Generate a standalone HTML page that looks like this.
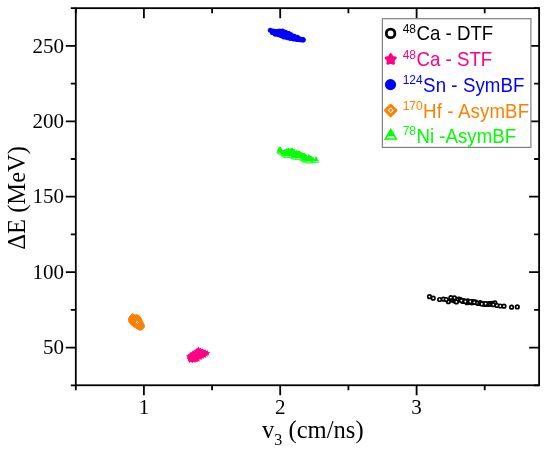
<!DOCTYPE html>
<html lang="en"><head><meta charset="utf-8"><title>ΔE vs v3</title>
<style>html,body{margin:0;padding:0;background:#fff}svg{display:block}.ser{font-family:"Liberation Serif",serif;fill:#000}.san{font-family:"Liberation Sans",sans-serif}</style></head><body>
<svg width="550" height="451" viewBox="0 0 550 451">
<rect width="550" height="451" fill="#fff"/>
<g fill="#0000ff">
<circle cx="287.9" cy="36.9" r="2.5"/>
<circle cx="278.3" cy="34.7" r="2.5"/>
<circle cx="286.3" cy="34.8" r="2.5"/>
<circle cx="300.0" cy="39.8" r="2.5"/>
<circle cx="303.0" cy="39.6" r="2.5"/>
<circle cx="277.9" cy="32.3" r="2.5"/>
<circle cx="294.3" cy="36.2" r="2.5"/>
<circle cx="272.8" cy="32.4" r="2.5"/>
<circle cx="282.3" cy="35.5" r="2.5"/>
<circle cx="283.8" cy="34.0" r="2.5"/>
<circle cx="282.5" cy="34.6" r="2.5"/>
<circle cx="288.0" cy="36.2" r="2.5"/>
<circle cx="278.8" cy="32.8" r="2.5"/>
<circle cx="287.5" cy="35.3" r="2.5"/>
<circle cx="292.7" cy="38.0" r="2.5"/>
<circle cx="300.6" cy="39.7" r="2.5"/>
<circle cx="277.1" cy="32.1" r="2.5"/>
<circle cx="282.6" cy="31.1" r="2.5"/>
<circle cx="272.3" cy="32.1" r="2.5"/>
<circle cx="281.4" cy="31.5" r="2.5"/>
<circle cx="279.2" cy="34.2" r="2.5"/>
<circle cx="270.3" cy="30.2" r="2.5"/>
<circle cx="289.6" cy="37.6" r="2.5"/>
<circle cx="286.6" cy="36.6" r="2.5"/>
<circle cx="300.0" cy="38.9" r="2.5"/>
<circle cx="289.4" cy="37.8" r="2.5"/>
<circle cx="273.2" cy="31.1" r="2.5"/>
<circle cx="283.0" cy="35.7" r="2.5"/>
<circle cx="281.5" cy="35.2" r="2.5"/>
<circle cx="278.9" cy="32.9" r="2.5"/>
<circle cx="282.1" cy="32.7" r="2.5"/>
<circle cx="279.5" cy="30.9" r="2.5"/>
<circle cx="283.6" cy="36.7" r="2.5"/>
<circle cx="274.7" cy="31.5" r="2.5"/>
<circle cx="279.9" cy="34.2" r="2.5"/>
<circle cx="296.8" cy="39.4" r="2.5"/>
<circle cx="288.0" cy="33.4" r="2.5"/>
<circle cx="288.6" cy="37.8" r="2.5"/>
<circle cx="285.9" cy="33.0" r="2.5"/>
<circle cx="293.6" cy="38.9" r="2.5"/>
<circle cx="279.3" cy="33.7" r="2.5"/>
<circle cx="297.2" cy="39.0" r="2.5"/>
<circle cx="275.2" cy="34.2" r="2.5"/>
<circle cx="288.5" cy="33.5" r="2.5"/>
<circle cx="291.3" cy="35.1" r="2.5"/>
<circle cx="284.2" cy="37.1" r="2.5"/>
<circle cx="287.3" cy="37.7" r="2.5"/>
<circle cx="297.3" cy="37.2" r="2.5"/>
<circle cx="290.5" cy="38.4" r="2.5"/>
<circle cx="281.3" cy="35.7" r="2.5"/>
<circle cx="274.7" cy="32.5" r="2.5"/>
<circle cx="285.5" cy="32.3" r="2.5"/>
<circle cx="277.5" cy="31.6" r="2.5"/>
<circle cx="298.4" cy="38.6" r="2.5"/>
<circle cx="285.8" cy="35.3" r="2.5"/>
<circle cx="288.7" cy="33.7" r="2.5"/>
<circle cx="294.3" cy="38.8" r="2.5"/>
<circle cx="284.0" cy="34.9" r="2.5"/>
<circle cx="290.2" cy="34.6" r="2.5"/>
<circle cx="299.2" cy="39.4" r="2.5"/>
<circle cx="276.4" cy="32.3" r="2.5"/>
<circle cx="276.4" cy="31.5" r="2.5"/>
<circle cx="272.6" cy="32.4" r="2.5"/>
<circle cx="302.5" cy="39.9" r="2.5"/>
<circle cx="303.2" cy="40.0" r="2.5"/>
<circle cx="279.0" cy="33.5" r="2.5"/>
<circle cx="281.6" cy="32.2" r="2.5"/>
<circle cx="274.6" cy="32.2" r="2.5"/>
</g>
<g fill="#00ff00" stroke="#00ff00" stroke-width="0.7" stroke-linejoin="miter">
<path d="M276.8 152.6L279.6 146.9L282.4 152.6Z" fill="#fff"/><path d="M279.6 146.9L281.7 151.1L277.5 151.1Z"/>
<path d="M277.3 152.9L280.1 147.2L282.9 152.9Z" fill="#fff"/><path d="M280.1 147.2L282.2 151.4L278.0 151.4Z"/>
<path d="M277.4 153.6L280.2 147.9L283.0 153.6Z" fill="#fff"/><path d="M280.2 147.9L282.3 152.1L278.1 152.1Z"/>
<path d="M289.1 153.8L291.9 148.1L294.7 153.8Z" fill="#fff"/><path d="M291.9 148.1L294.0 152.3L289.8 152.3Z"/>
<path d="M289.6 154.0L292.4 148.3L295.2 154.0Z" fill="#fff"/><path d="M292.4 148.3L294.5 152.5L290.3 152.5Z"/>
<path d="M285.7 154.2L288.5 148.5L291.3 154.2Z" fill="#fff"/><path d="M288.5 148.5L290.6 152.7L286.4 152.7Z"/>
<path d="M287.9 154.4L290.7 148.7L293.5 154.4Z" fill="#fff"/><path d="M290.7 148.7L292.8 152.9L288.6 152.9Z"/>
<path d="M278.3 154.4L281.1 148.7L283.9 154.4Z" fill="#fff"/><path d="M281.1 148.7L283.2 152.9L279.0 152.9Z"/>
<path d="M285.7 154.4L288.5 148.7L291.3 154.4Z" fill="#fff"/><path d="M288.5 148.7L290.6 152.9L286.4 152.9Z"/>
<path d="M283.7 154.5L286.5 148.8L289.3 154.5Z" fill="#fff"/><path d="M286.5 148.8L288.6 153.0L284.4 153.0Z"/>
<path d="M286.4 154.6L289.2 148.9L292.0 154.6Z" fill="#fff"/><path d="M289.2 148.9L291.3 153.1L287.1 153.1Z"/>
<path d="M284.9 154.8L287.7 149.1L290.5 154.8Z" fill="#fff"/><path d="M287.7 149.1L289.8 153.3L285.6 153.3Z"/>
<path d="M283.4 154.8L286.2 149.1L289.0 154.8Z" fill="#fff"/><path d="M286.2 149.1L288.3 153.3L284.1 153.3Z"/>
<path d="M285.0 154.9L287.8 149.2L290.6 154.9Z" fill="#fff"/><path d="M287.8 149.2L289.9 153.4L285.7 153.4Z"/>
<path d="M287.4 155.1L290.2 149.4L293.0 155.1Z" fill="#fff"/><path d="M290.2 149.4L292.3 153.6L288.1 153.6Z"/>
<path d="M289.8 155.1L292.6 149.4L295.4 155.1Z" fill="#fff"/><path d="M292.6 149.4L294.7 153.6L290.5 153.6Z"/>
<path d="M291.2 155.1L294.0 149.4L296.8 155.1Z" fill="#fff"/><path d="M294.0 149.4L296.1 153.6L291.9 153.6Z"/>
<path d="M282.0 155.4L284.8 149.7L287.6 155.4Z" fill="#fff"/><path d="M284.8 149.7L286.9 153.9L282.7 153.9Z"/>
<path d="M284.4 155.4L287.2 149.7L290.0 155.4Z" fill="#fff"/><path d="M287.2 149.7L289.3 153.9L285.1 153.9Z"/>
<path d="M289.2 155.5L292.0 149.8L294.8 155.5Z" fill="#fff"/><path d="M292.0 149.8L294.1 154.0L289.9 154.0Z"/>
<path d="M288.2 155.5L291.0 149.8L293.8 155.5Z" fill="#fff"/><path d="M291.0 149.8L293.1 154.0L288.9 154.0Z"/>
<path d="M290.4 155.6L293.2 149.9L296.0 155.6Z" fill="#fff"/><path d="M293.2 149.9L295.3 154.1L291.1 154.1Z"/>
<path d="M280.7 155.7L283.5 150.0L286.3 155.7Z" fill="#fff"/><path d="M283.5 150.0L285.6 154.2L281.4 154.2Z"/>
<path d="M281.1 155.8L283.9 150.1L286.7 155.8Z" fill="#fff"/><path d="M283.9 150.1L286.0 154.3L281.8 154.3Z"/>
<path d="M282.7 155.9L285.5 150.2L288.3 155.9Z" fill="#fff"/><path d="M285.5 150.2L287.6 154.4L283.4 154.4Z"/>
<path d="M283.5 155.9L286.3 150.2L289.1 155.9Z" fill="#fff"/><path d="M286.3 150.2L288.4 154.4L284.2 154.4Z"/>
<path d="M284.3 156.3L287.1 150.6L289.9 156.3Z" fill="#fff"/><path d="M287.1 150.6L289.2 154.8L285.0 154.8Z"/>
<path d="M283.7 156.3L286.5 150.6L289.3 156.3Z" fill="#fff"/><path d="M286.5 150.6L288.6 154.8L284.4 154.8Z"/>
<path d="M293.7 156.3L296.5 150.6L299.3 156.3Z" fill="#fff"/><path d="M296.5 150.6L298.6 154.8L294.4 154.8Z"/>
<path d="M290.4 156.4L293.2 150.7L296.0 156.4Z" fill="#fff"/><path d="M293.2 150.7L295.3 154.9L291.1 154.9Z"/>
<path d="M287.6 156.6L290.4 150.9L293.2 156.6Z" fill="#fff"/><path d="M290.4 150.9L292.5 155.1L288.3 155.1Z"/>
<path d="M289.8 156.6L292.6 150.9L295.4 156.6Z" fill="#fff"/><path d="M292.6 150.9L294.7 155.1L290.5 155.1Z"/>
<path d="M296.1 156.6L298.9 150.9L301.7 156.6Z" fill="#fff"/><path d="M298.9 150.9L301.0 155.1L296.8 155.1Z"/>
<path d="M296.6 156.7L299.4 151.0L302.2 156.7Z" fill="#fff"/><path d="M299.4 151.0L301.5 155.2L297.3 155.2Z"/>
<path d="M282.2 156.7L285.0 151.0L287.8 156.7Z" fill="#fff"/><path d="M285.0 151.0L287.1 155.2L282.9 155.2Z"/>
<path d="M294.3 156.9L297.1 151.2L299.9 156.9Z" fill="#fff"/><path d="M297.1 151.2L299.2 155.4L295.0 155.4Z"/>
<path d="M283.1 157.0L285.9 151.3L288.7 157.0Z" fill="#fff"/><path d="M285.9 151.3L288.0 155.5L283.8 155.5Z"/>
<path d="M289.6 157.0L292.4 151.3L295.2 157.0Z" fill="#fff"/><path d="M292.4 151.3L294.5 155.5L290.3 155.5Z"/>
<path d="M289.3 157.1L292.1 151.4L294.9 157.1Z" fill="#fff"/><path d="M292.1 151.4L294.2 155.6L290.0 155.6Z"/>
<path d="M289.4 157.2L292.2 151.5L295.0 157.2Z" fill="#fff"/><path d="M292.2 151.5L294.3 155.7L290.1 155.7Z"/>
<path d="M290.0 157.2L292.8 151.5L295.6 157.2Z" fill="#fff"/><path d="M292.8 151.5L294.9 155.7L290.7 155.7Z"/>
<path d="M286.4 157.4L289.2 151.7L292.0 157.4Z" fill="#fff"/><path d="M289.2 151.7L291.3 155.9L287.1 155.9Z"/>
<path d="M291.4 157.4L294.2 151.7L297.0 157.4Z" fill="#fff"/><path d="M294.2 151.7L296.3 155.9L292.1 155.9Z"/>
<path d="M286.7 157.5L289.5 151.8L292.3 157.5Z" fill="#fff"/><path d="M289.5 151.8L291.6 156.0L287.4 156.0Z"/>
<path d="M292.3 157.5L295.1 151.8L297.9 157.5Z" fill="#fff"/><path d="M295.1 151.8L297.2 156.0L293.0 156.0Z"/>
<path d="M284.3 157.6L287.1 151.9L289.9 157.6Z" fill="#fff"/><path d="M287.1 151.9L289.2 156.1L285.0 156.1Z"/>
<path d="M292.0 157.9L294.8 152.2L297.6 157.9Z" fill="#fff"/><path d="M294.8 152.2L296.9 156.4L292.7 156.4Z"/>
<path d="M296.2 157.9L299.0 152.2L301.8 157.9Z" fill="#fff"/><path d="M299.0 152.2L301.1 156.4L296.9 156.4Z"/>
<path d="M292.9 158.0L295.7 152.3L298.5 158.0Z" fill="#fff"/><path d="M295.7 152.3L297.8 156.5L293.6 156.5Z"/>
<path d="M298.7 158.2L301.5 152.5L304.3 158.2Z" fill="#fff"/><path d="M301.5 152.5L303.6 156.7L299.4 156.7Z"/>
<path d="M290.7 158.3L293.5 152.6L296.3 158.3Z" fill="#fff"/><path d="M293.5 152.6L295.6 156.8L291.4 156.8Z"/>
<path d="M295.7 158.4L298.5 152.7L301.3 158.4Z" fill="#fff"/><path d="M298.5 152.7L300.6 156.9L296.4 156.9Z"/>
<path d="M299.1 158.4L301.9 152.7L304.7 158.4Z" fill="#fff"/><path d="M301.9 152.7L304.0 156.9L299.8 156.9Z"/>
<path d="M294.2 158.6L297.0 152.9L299.8 158.6Z" fill="#fff"/><path d="M297.0 152.9L299.1 157.1L294.9 157.1Z"/>
<path d="M300.3 158.9L303.1 153.2L305.9 158.9Z" fill="#fff"/><path d="M303.1 153.2L305.2 157.4L301.0 157.4Z"/>
<path d="M291.5 158.9L294.3 153.2L297.1 158.9Z" fill="#fff"/><path d="M294.3 153.2L296.4 157.4L292.2 157.4Z"/>
<path d="M300.2 159.0L303.0 153.3L305.8 159.0Z" fill="#fff"/><path d="M303.0 153.3L305.1 157.5L300.9 157.5Z"/>
<path d="M292.8 159.0L295.6 153.3L298.4 159.0Z" fill="#fff"/><path d="M295.6 153.3L297.7 157.5L293.5 157.5Z"/>
<path d="M299.4 159.2L302.2 153.5L305.0 159.2Z" fill="#fff"/><path d="M302.2 153.5L304.3 157.7L300.1 157.7Z"/>
<path d="M301.9 159.3L304.7 153.6L307.5 159.3Z" fill="#fff"/><path d="M304.7 153.6L306.8 157.8L302.6 157.8Z"/>
<path d="M299.6 159.3L302.4 153.6L305.2 159.3Z" fill="#fff"/><path d="M302.4 153.6L304.5 157.8L300.3 157.8Z"/>
<path d="M301.1 159.5L303.9 153.8L306.7 159.5Z" fill="#fff"/><path d="M303.9 153.8L306.0 158.0L301.8 158.0Z"/>
<path d="M301.7 159.5L304.5 153.8L307.3 159.5Z" fill="#fff"/><path d="M304.5 153.8L306.6 158.0L302.4 158.0Z"/>
<path d="M295.2 159.6L298.0 153.9L300.8 159.6Z" fill="#fff"/><path d="M298.0 153.9L300.1 158.1L295.9 158.1Z"/>
<path d="M300.8 160.0L303.6 154.3L306.4 160.0Z" fill="#fff"/><path d="M303.6 154.3L305.7 158.5L301.5 158.5Z"/>
<path d="M299.9 160.2L302.7 154.5L305.5 160.2Z" fill="#fff"/><path d="M302.7 154.5L304.8 158.7L300.6 158.7Z"/>
<path d="M301.5 160.2L304.3 154.5L307.1 160.2Z" fill="#fff"/><path d="M304.3 154.5L306.4 158.7L302.2 158.7Z"/>
<path d="M301.1 160.3L303.9 154.6L306.7 160.3Z" fill="#fff"/><path d="M303.9 154.6L306.0 158.8L301.8 158.8Z"/>
<path d="M300.9 160.5L303.7 154.8L306.5 160.5Z" fill="#fff"/><path d="M303.7 154.8L305.8 159.0L301.6 159.0Z"/>
<path d="M305.9 160.5L308.7 154.8L311.5 160.5Z" fill="#fff"/><path d="M308.7 154.8L310.8 159.0L306.6 159.0Z"/>
<path d="M303.3 160.6L306.1 154.9L308.9 160.6Z" fill="#fff"/><path d="M306.1 154.9L308.2 159.1L304.0 159.1Z"/>
<path d="M302.9 160.7L305.7 155.0L308.5 160.7Z" fill="#fff"/><path d="M305.7 155.0L307.8 159.2L303.6 159.2Z"/>
<path d="M306.6 161.3L309.4 155.6L312.2 161.3Z" fill="#fff"/><path d="M309.4 155.6L311.5 159.8L307.3 159.8Z"/>
<path d="M301.5 161.7L304.3 156.0L307.1 161.7Z" fill="#fff"/><path d="M304.3 156.0L306.4 160.2L302.2 160.2Z"/>
<path d="M306.6 161.7L309.4 156.0L312.2 161.7Z" fill="#fff"/><path d="M309.4 156.0L311.5 160.2L307.3 160.2Z"/>
<path d="M305.4 161.7L308.2 156.0L311.0 161.7Z" fill="#fff"/><path d="M308.2 156.0L310.3 160.2L306.1 160.2Z"/>
<path d="M306.7 161.8L309.5 156.1L312.3 161.8Z" fill="#fff"/><path d="M309.5 156.1L311.6 160.3L307.4 160.3Z"/>
<path d="M305.8 161.8L308.6 156.1L311.4 161.8Z" fill="#fff"/><path d="M308.6 156.1L310.7 160.3L306.5 160.3Z"/>
<path d="M308.2 161.8L311.0 156.1L313.8 161.8Z" fill="#fff"/><path d="M311.0 156.1L313.1 160.3L308.9 160.3Z"/>
<path d="M302.9 161.9L305.7 156.2L308.5 161.9Z" fill="#fff"/><path d="M305.7 156.2L307.8 160.4L303.6 160.4Z"/>
<path d="M306.2 162.0L309.0 156.3L311.8 162.0Z" fill="#fff"/><path d="M309.0 156.3L311.1 160.5L306.9 160.5Z"/>
<path d="M308.4 162.2L311.2 156.5L314.0 162.2Z" fill="#fff"/><path d="M311.2 156.5L313.3 160.7L309.1 160.7Z"/>
<path d="M304.1 162.4L306.9 156.7L309.7 162.4Z" fill="#fff"/><path d="M306.9 156.7L309.0 160.9L304.8 160.9Z"/>
<path d="M308.5 162.5L311.3 156.8L314.1 162.5Z" fill="#fff"/><path d="M311.3 156.8L313.4 161.0L309.2 161.0Z"/>
<path d="M313.2 162.6L316.0 156.9L318.8 162.6Z" fill="#fff"/><path d="M316.0 156.9L318.1 161.1L313.9 161.1Z"/>
<path d="M309.8 162.6L312.6 156.9L315.4 162.6Z" fill="#fff"/><path d="M312.6 156.9L314.7 161.1L310.5 161.1Z"/>
<path d="M308.1 162.7L310.9 157.0L313.7 162.7Z" fill="#fff"/><path d="M310.9 157.0L313.0 161.2L308.8 161.2Z"/>
<path d="M303.6 162.7L306.4 157.0L309.2 162.7Z" fill="#fff"/><path d="M306.4 157.0L308.5 161.2L304.3 161.2Z"/>
<path d="M307.3 162.7L310.1 157.0L312.9 162.7Z" fill="#fff"/><path d="M310.1 157.0L312.2 161.2L308.0 161.2Z"/>
<path d="M305.9 162.8L308.7 157.1L311.5 162.8Z" fill="#fff"/><path d="M308.7 157.1L310.8 161.3L306.6 161.3Z"/>
</g>
<g fill="none" stroke="#ff8000" stroke-width="1.1" stroke-linejoin="round">
<path d="M130.9 321.0L133.2 318.7L135.5 321.0L133.2 323.3Z"/><circle cx="133.2" cy="321.0" r="0.5" fill="#ff8000" stroke="none"/>
<path d="M136.5 319.0L138.8 316.7L141.1 319.0L138.8 321.3Z"/><circle cx="138.8" cy="319.0" r="0.5" fill="#ff8000" stroke="none"/>
<path d="M130.5 322.2L132.8 319.9L135.1 322.2L132.8 324.5Z"/><circle cx="132.8" cy="322.2" r="0.5" fill="#ff8000" stroke="none"/>
<path d="M136.0 318.6L138.3 316.3L140.6 318.6L138.3 320.9Z"/><circle cx="138.3" cy="318.6" r="0.5" fill="#ff8000" stroke="none"/>
<path d="M129.2 319.6L131.5 317.3L133.8 319.6L131.5 321.9Z"/><circle cx="131.5" cy="319.6" r="0.5" fill="#ff8000" stroke="none"/>
<path d="M135.0 319.9L137.3 317.6L139.6 319.9L137.3 322.2Z"/><circle cx="137.3" cy="319.9" r="0.5" fill="#ff8000" stroke="none"/>
<path d="M132.5 324.8L134.8 322.5L137.1 324.8L134.8 327.1Z"/><circle cx="134.8" cy="324.8" r="0.5" fill="#ff8000" stroke="none"/>
<path d="M139.7 327.0L142.0 324.7L144.3 327.0L142.0 329.3Z"/><circle cx="142.0" cy="327.0" r="0.5" fill="#ff8000" stroke="none"/>
<path d="M134.8 320.9L137.1 318.6L139.4 320.9L137.1 323.2Z"/><circle cx="137.1" cy="320.9" r="0.5" fill="#ff8000" stroke="none"/>
<path d="M136.5 326.8L138.8 324.5L141.1 326.8L138.8 329.1Z"/><circle cx="138.8" cy="326.8" r="0.5" fill="#ff8000" stroke="none"/>
<path d="M133.8 321.2L136.1 318.9L138.4 321.2L136.1 323.5Z"/><circle cx="136.1" cy="321.2" r="0.5" fill="#ff8000" stroke="none"/>
<path d="M136.0 319.9L138.3 317.6L140.6 319.9L138.3 322.2Z"/><circle cx="138.3" cy="319.9" r="0.5" fill="#ff8000" stroke="none"/>
<path d="M138.1 325.6L140.4 323.3L142.7 325.6L140.4 327.9Z"/><circle cx="140.4" cy="325.6" r="0.5" fill="#ff8000" stroke="none"/>
<path d="M129.8 317.2L132.1 314.9L134.4 317.2L132.1 319.5Z"/><circle cx="132.1" cy="317.2" r="0.5" fill="#ff8000" stroke="none"/>
<path d="M134.6 323.3L136.9 321.0L139.2 323.3L136.9 325.6Z"/><circle cx="136.9" cy="323.3" r="0.5" fill="#ff8000" stroke="none"/>
<path d="M135.4 320.2L137.7 317.9L140.0 320.2L137.7 322.5Z"/><circle cx="137.7" cy="320.2" r="0.5" fill="#ff8000" stroke="none"/>
<path d="M135.5 323.7L137.8 321.4L140.1 323.7L137.8 326.0Z"/><circle cx="137.8" cy="323.7" r="0.5" fill="#ff8000" stroke="none"/>
<path d="M134.0 325.7L136.3 323.4L138.6 325.7L136.3 328.0Z"/><circle cx="136.3" cy="325.7" r="0.5" fill="#ff8000" stroke="none"/>
<path d="M134.0 323.5L136.3 321.2L138.6 323.5L136.3 325.8Z"/><circle cx="136.3" cy="323.5" r="0.5" fill="#ff8000" stroke="none"/>
<path d="M131.2 320.8L133.5 318.5L135.8 320.8L133.5 323.1Z"/><circle cx="133.5" cy="320.8" r="0.5" fill="#ff8000" stroke="none"/>
<path d="M130.3 323.2L132.6 320.9L134.9 323.2L132.6 325.5Z"/><circle cx="132.6" cy="323.2" r="0.5" fill="#ff8000" stroke="none"/>
<path d="M136.3 318.1L138.6 315.8L140.9 318.1L138.6 320.4Z"/><circle cx="138.6" cy="318.1" r="0.5" fill="#ff8000" stroke="none"/>
<path d="M133.6 325.4L135.9 323.1L138.2 325.4L135.9 327.7Z"/><circle cx="135.9" cy="325.4" r="0.5" fill="#ff8000" stroke="none"/>
<path d="M135.2 318.8L137.5 316.5L139.8 318.8L137.5 321.1Z"/><circle cx="137.5" cy="318.8" r="0.5" fill="#ff8000" stroke="none"/>
<path d="M129.0 319.5L131.3 317.2L133.6 319.5L131.3 321.8Z"/><circle cx="131.3" cy="319.5" r="0.5" fill="#ff8000" stroke="none"/>
<path d="M133.7 318.5L136.0 316.2L138.3 318.5L136.0 320.8Z"/><circle cx="136.0" cy="318.5" r="0.5" fill="#ff8000" stroke="none"/>
<path d="M133.5 318.7L135.8 316.4L138.1 318.7L135.8 321.0Z"/><circle cx="135.8" cy="318.7" r="0.5" fill="#ff8000" stroke="none"/>
<path d="M132.5 322.0L134.8 319.7L137.1 322.0L134.8 324.3Z"/><circle cx="134.8" cy="322.0" r="0.5" fill="#ff8000" stroke="none"/>
<path d="M131.9 319.6L134.2 317.3L136.5 319.6L134.2 321.9Z"/><circle cx="134.2" cy="319.6" r="0.5" fill="#ff8000" stroke="none"/>
<path d="M139.9 325.8L142.2 323.5L144.5 325.8L142.2 328.1Z"/><circle cx="142.2" cy="325.8" r="0.5" fill="#ff8000" stroke="none"/>
<path d="M136.2 323.0L138.5 320.7L140.8 323.0L138.5 325.3Z"/><circle cx="138.5" cy="323.0" r="0.5" fill="#ff8000" stroke="none"/>
<path d="M131.8 322.0L134.1 319.7L136.4 322.0L134.1 324.3Z"/><circle cx="134.1" cy="322.0" r="0.5" fill="#ff8000" stroke="none"/>
<path d="M129.7 318.4L132.0 316.1L134.3 318.4L132.0 320.7Z"/><circle cx="132.0" cy="318.4" r="0.5" fill="#ff8000" stroke="none"/>
<path d="M133.4 319.2L135.7 316.9L138.0 319.2L135.7 321.5Z"/><circle cx="135.7" cy="319.2" r="0.5" fill="#ff8000" stroke="none"/>
<path d="M136.0 318.4L138.3 316.1L140.6 318.4L138.3 320.7Z"/><circle cx="138.3" cy="318.4" r="0.5" fill="#ff8000" stroke="none"/>
<path d="M133.7 325.6L136.0 323.3L138.3 325.6L136.0 327.9Z"/><circle cx="136.0" cy="325.6" r="0.5" fill="#ff8000" stroke="none"/>
<path d="M136.1 320.1L138.4 317.8L140.7 320.1L138.4 322.4Z"/><circle cx="138.4" cy="320.1" r="0.5" fill="#ff8000" stroke="none"/>
<path d="M132.4 319.1L134.7 316.8L137.0 319.1L134.7 321.4Z"/><circle cx="134.7" cy="319.1" r="0.5" fill="#ff8000" stroke="none"/>
<path d="M134.2 319.6L136.5 317.3L138.8 319.6L136.5 321.9Z"/><circle cx="136.5" cy="319.6" r="0.5" fill="#ff8000" stroke="none"/>
<path d="M135.6 324.7L137.9 322.4L140.2 324.7L137.9 327.0Z"/><circle cx="137.9" cy="324.7" r="0.5" fill="#ff8000" stroke="none"/>
<path d="M131.4 317.0L133.7 314.7L136.0 317.0L133.7 319.3Z"/><circle cx="133.7" cy="317.0" r="0.5" fill="#ff8000" stroke="none"/>
<path d="M138.6 326.8L140.9 324.5L143.2 326.8L140.9 329.1Z"/><circle cx="140.9" cy="326.8" r="0.5" fill="#ff8000" stroke="none"/>
<path d="M136.8 325.8L139.1 323.5L141.4 325.8L139.1 328.1Z"/><circle cx="139.1" cy="325.8" r="0.5" fill="#ff8000" stroke="none"/>
<path d="M129.5 321.8L131.8 319.5L134.1 321.8L131.8 324.1Z"/><circle cx="131.8" cy="321.8" r="0.5" fill="#ff8000" stroke="none"/>
<path d="M137.5 321.7L139.8 319.4L142.1 321.7L139.8 324.0Z"/><circle cx="139.8" cy="321.7" r="0.5" fill="#ff8000" stroke="none"/>
<path d="M131.6 317.4L133.9 315.1L136.2 317.4L133.9 319.7Z"/><circle cx="133.9" cy="317.4" r="0.5" fill="#ff8000" stroke="none"/>
<path d="M130.7 321.9L133.0 319.6L135.3 321.9L133.0 324.2Z"/><circle cx="133.0" cy="321.9" r="0.5" fill="#ff8000" stroke="none"/>
<path d="M130.1 317.8L132.4 315.5L134.7 317.8L132.4 320.1Z"/><circle cx="132.4" cy="317.8" r="0.5" fill="#ff8000" stroke="none"/>
<path d="M128.5 319.7L130.8 317.4L133.1 319.7L130.8 322.0Z"/><circle cx="130.8" cy="319.7" r="0.5" fill="#ff8000" stroke="none"/>
<path d="M135.9 326.2L138.2 323.9L140.5 326.2L138.2 328.5Z"/><circle cx="138.2" cy="326.2" r="0.5" fill="#ff8000" stroke="none"/>
<path d="M130.5 317.5L132.8 315.2L135.1 317.5L132.8 319.8Z"/><circle cx="132.8" cy="317.5" r="0.5" fill="#ff8000" stroke="none"/>
<path d="M136.5 323.1L138.8 320.8L141.1 323.1L138.8 325.4Z"/><circle cx="138.8" cy="323.1" r="0.5" fill="#ff8000" stroke="none"/>
<path d="M130.9 317.0L133.2 314.7L135.5 317.0L133.2 319.3Z"/><circle cx="133.2" cy="317.0" r="0.5" fill="#ff8000" stroke="none"/>
<path d="M132.4 323.0L134.7 320.7L137.0 323.0L134.7 325.3Z"/><circle cx="134.7" cy="323.0" r="0.5" fill="#ff8000" stroke="none"/>
<path d="M136.9 319.4L139.2 317.1L141.5 319.4L139.2 321.7Z"/><circle cx="139.2" cy="319.4" r="0.5" fill="#ff8000" stroke="none"/>
<path d="M128.7 318.3L131.0 316.0L133.3 318.3L131.0 320.6Z"/><circle cx="131.0" cy="318.3" r="0.5" fill="#ff8000" stroke="none"/>
<path d="M134.3 319.3L136.6 317.0L138.9 319.3L136.6 321.6Z"/><circle cx="136.6" cy="319.3" r="0.5" fill="#ff8000" stroke="none"/>
<path d="M136.1 327.0L138.4 324.7L140.7 327.0L138.4 329.3Z"/><circle cx="138.4" cy="327.0" r="0.5" fill="#ff8000" stroke="none"/>
<path d="M137.5 320.7L139.8 318.4L142.1 320.7L139.8 323.0Z"/><circle cx="139.8" cy="320.7" r="0.5" fill="#ff8000" stroke="none"/>
<path d="M129.6 319.7L131.9 317.4L134.2 319.7L131.9 322.0Z"/><circle cx="131.9" cy="319.7" r="0.5" fill="#ff8000" stroke="none"/>
<path d="M139.3 324.5L141.6 322.2L143.9 324.5L141.6 326.8Z"/><circle cx="141.6" cy="324.5" r="0.5" fill="#ff8000" stroke="none"/>
<path d="M134.4 324.0L136.7 321.7L139.0 324.0L136.7 326.3Z"/><circle cx="136.7" cy="324.0" r="0.5" fill="#ff8000" stroke="none"/>
<path d="M128.6 319.1L130.9 316.8L133.2 319.1L130.9 321.4Z"/><circle cx="130.9" cy="319.1" r="0.5" fill="#ff8000" stroke="none"/>
<path d="M138.6 323.7L140.9 321.4L143.2 323.7L140.9 326.0Z"/><circle cx="140.9" cy="323.7" r="0.5" fill="#ff8000" stroke="none"/>
<path d="M138.7 323.2L141.0 320.9L143.3 323.2L141.0 325.5Z"/><circle cx="141.0" cy="323.2" r="0.5" fill="#ff8000" stroke="none"/>
<path d="M138.1 326.9L140.4 324.6L142.7 326.9L140.4 329.2Z"/><circle cx="140.4" cy="326.9" r="0.5" fill="#ff8000" stroke="none"/>
<path d="M129.5 317.2L131.8 314.9L134.1 317.2L131.8 319.5Z"/><circle cx="131.8" cy="317.2" r="0.5" fill="#ff8000" stroke="none"/>
<path d="M130.8 320.9L133.1 318.6L135.4 320.9L133.1 323.2Z"/><circle cx="133.1" cy="320.9" r="0.5" fill="#ff8000" stroke="none"/>
<path d="M131.3 320.6L133.6 318.3L135.9 320.6L133.6 322.9Z"/><circle cx="133.6" cy="320.6" r="0.5" fill="#ff8000" stroke="none"/>
<path d="M128.5 321.1L130.8 318.8L133.1 321.1L130.8 323.4Z"/><circle cx="130.8" cy="321.1" r="0.5" fill="#ff8000" stroke="none"/>
<path d="M134.1 316.9L136.4 314.6L138.7 316.9L136.4 319.2Z"/><circle cx="136.4" cy="316.9" r="0.5" fill="#ff8000" stroke="none"/>
<path d="M137.3 327.8L139.6 325.5L141.9 327.8L139.6 330.1Z"/><circle cx="139.6" cy="327.8" r="0.5" fill="#ff8000" stroke="none"/>
<path d="M135.2 317.2L137.5 314.9L139.8 317.2L137.5 319.5Z"/><circle cx="137.5" cy="317.2" r="0.5" fill="#ff8000" stroke="none"/>
<path d="M137.2 323.8L139.5 321.5L141.8 323.8L139.5 326.1Z"/><circle cx="139.5" cy="323.8" r="0.5" fill="#ff8000" stroke="none"/>
<path d="M137.4 322.7L139.7 320.4L142.0 322.7L139.7 325.0Z"/><circle cx="139.7" cy="322.7" r="0.5" fill="#ff8000" stroke="none"/>
<path d="M137.2 325.9L139.5 323.6L141.8 325.9L139.5 328.2Z"/><circle cx="139.5" cy="325.9" r="0.5" fill="#ff8000" stroke="none"/>
<path d="M134.9 326.3L137.2 324.0L139.5 326.3L137.2 328.6Z"/><circle cx="137.2" cy="326.3" r="0.5" fill="#ff8000" stroke="none"/>
<path d="M138.2 324.1L140.5 321.8L142.8 324.1L140.5 326.4Z"/><circle cx="140.5" cy="324.1" r="0.5" fill="#ff8000" stroke="none"/>
<path d="M138.1 322.0L140.4 319.7L142.7 322.0L140.4 324.3Z"/><circle cx="140.4" cy="322.0" r="0.5" fill="#ff8000" stroke="none"/>
<path d="M132.1 324.4L134.4 322.1L136.7 324.4L134.4 326.7Z"/><circle cx="134.4" cy="324.4" r="0.5" fill="#ff8000" stroke="none"/>
<path d="M129.6 319.1L131.9 316.8L134.2 319.1L131.9 321.4Z"/><circle cx="131.9" cy="319.1" r="0.5" fill="#ff8000" stroke="none"/>
<path d="M133.9 322.7L136.2 320.4L138.5 322.7L136.2 325.0Z"/><circle cx="136.2" cy="322.7" r="0.5" fill="#ff8000" stroke="none"/>
<path d="M135.5 323.0L137.8 320.7L140.1 323.0L137.8 325.3Z"/><circle cx="137.8" cy="323.0" r="0.5" fill="#ff8000" stroke="none"/>
<path d="M130.1 319.7L132.4 317.4L134.7 319.7L132.4 322.0Z"/><circle cx="132.4" cy="319.7" r="0.5" fill="#ff8000" stroke="none"/>
<path d="M131.3 324.1L133.6 321.8L135.9 324.1L133.6 326.4Z"/><circle cx="133.6" cy="324.1" r="0.5" fill="#ff8000" stroke="none"/>
<path d="M130.5 320.4L132.8 318.1L135.1 320.4L132.8 322.7Z"/><circle cx="132.8" cy="320.4" r="0.5" fill="#ff8000" stroke="none"/>
<path d="M129.7 317.5L132.0 315.2L134.3 317.5L132.0 319.8Z"/><circle cx="132.0" cy="317.5" r="0.5" fill="#ff8000" stroke="none"/>
<path d="M136.6 324.3L138.9 322.0L141.2 324.3L138.9 326.6Z"/><circle cx="138.9" cy="324.3" r="0.5" fill="#ff8000" stroke="none"/>
<path d="M132.7 317.3L135.0 315.0L137.3 317.3L135.0 319.6Z"/><circle cx="135.0" cy="317.3" r="0.5" fill="#ff8000" stroke="none"/>
<path d="M129.4 322.1L131.7 319.8L134.0 322.1L131.7 324.4Z"/><circle cx="131.7" cy="322.1" r="0.5" fill="#ff8000" stroke="none"/>
<path d="M130.3 316.1L132.6 313.8L134.9 316.1L132.6 318.4Z"/><circle cx="132.6" cy="316.1" r="0.5" fill="#ff8000" stroke="none"/>
<path d="M138.6 327.9L140.9 325.6L143.2 327.9L140.9 330.2Z"/><circle cx="140.9" cy="327.9" r="0.5" fill="#ff8000" stroke="none"/>
<path d="M136.2 323.9L138.5 321.6L140.8 323.9L138.5 326.2Z"/><circle cx="138.5" cy="323.9" r="0.5" fill="#ff8000" stroke="none"/>
<path d="M139.2 324.8L141.5 322.5L143.8 324.8L141.5 327.1Z"/><circle cx="141.5" cy="324.8" r="0.5" fill="#ff8000" stroke="none"/>
<path d="M130.3 323.2L132.6 320.9L134.9 323.2L132.6 325.5Z"/><circle cx="132.6" cy="323.2" r="0.5" fill="#ff8000" stroke="none"/>
<path d="M134.8 323.7L137.1 321.4L139.4 323.7L137.1 326.0Z"/><circle cx="137.1" cy="323.7" r="0.5" fill="#ff8000" stroke="none"/>
</g>
<path d="M135.1 322.4L137.4 320.1L139.7 322.4L137.4 324.7Z" fill="#fff" stroke="#ff8000" stroke-width="1.1"/><circle cx="137.4" cy="322.4" r="0.55" fill="#ff8000"/>
<g fill="#ff0086">
<path d="M189.2 353.3L190.0 355.4L192.3 355.5L190.5 357.0L191.1 359.2L189.2 358.0L187.2 359.2L187.9 357.0L186.1 355.5L188.4 355.4Z"/>
<path d="M192.3 354.5L193.1 356.7L195.4 356.8L193.6 358.2L194.2 360.5L192.3 359.2L190.3 360.5L190.9 358.2L189.1 356.8L191.4 356.7Z"/>
<path d="M202.2 348.5L203.0 350.7L205.3 350.8L203.5 352.3L204.1 354.5L202.2 353.2L200.2 354.5L200.8 352.3L199.0 350.8L201.3 350.7Z"/>
<path d="M197.6 348.6L198.4 350.8L200.7 350.9L198.9 352.4L199.5 354.6L197.6 353.3L195.6 354.6L196.3 352.4L194.4 350.9L196.8 350.8Z"/>
<path d="M204.9 349.1L205.8 351.2L208.1 351.4L206.3 352.8L206.9 355.0L204.9 353.8L203.0 355.0L203.6 352.8L201.8 351.4L204.1 351.2Z"/>
<path d="M190.8 351.7L191.6 353.9L193.9 354.0L192.1 355.4L192.7 357.7L190.8 356.4L188.8 357.7L189.4 355.4L187.6 354.0L189.9 353.9Z"/>
<path d="M193.7 354.3L194.5 356.5L196.8 356.6L195.0 358.0L195.6 360.3L193.7 359.0L191.7 360.3L192.3 358.0L190.5 356.6L192.8 356.5Z"/>
<path d="M195.7 353.2L196.5 355.4L198.8 355.5L197.0 356.9L197.6 359.2L195.7 357.9L193.7 359.2L194.4 356.9L192.5 355.5L194.9 355.4Z"/>
<path d="M198.4 346.5L199.3 348.7L201.6 348.8L199.8 350.2L200.4 352.5L198.4 351.2L196.5 352.5L197.1 350.2L195.3 348.8L197.6 348.7Z"/>
<path d="M197.9 348.2L198.7 350.4L201.0 350.5L199.2 352.0L199.8 354.2L197.9 352.9L195.9 354.2L196.5 352.0L194.7 350.5L197.1 350.4Z"/>
<path d="M191.0 356.7L191.9 358.8L194.2 359.0L192.4 360.4L193.0 362.6L191.0 361.4L189.1 362.6L189.7 360.4L187.9 359.0L190.2 358.8Z"/>
<path d="M189.1 353.2L189.9 355.4L192.2 355.5L190.4 356.9L191.0 359.2L189.1 357.9L187.2 359.2L187.8 356.9L186.0 355.5L188.3 355.4Z"/>
<path d="M207.2 349.7L208.0 351.8L210.3 352.0L208.5 353.4L209.1 355.6L207.2 354.4L205.2 355.6L205.8 353.4L204.0 352.0L206.4 351.8Z"/>
<path d="M199.5 349.2L200.3 351.4L202.6 351.5L200.8 352.9L201.4 355.2L199.5 353.9L197.5 355.2L198.1 352.9L196.3 351.5L198.7 351.4Z"/>
<path d="M201.5 349.6L202.3 351.8L204.7 351.9L202.9 353.3L203.5 355.6L201.5 354.3L199.6 355.6L200.2 353.3L198.4 351.9L200.7 351.8Z"/>
<path d="M193.6 356.5L194.5 358.7L196.8 358.8L195.0 360.3L195.6 362.5L193.6 361.2L191.7 362.5L192.3 360.3L190.5 358.8L192.8 358.7Z"/>
<path d="M192.6 354.3L193.5 356.5L195.8 356.6L194.0 358.0L194.6 360.3L192.6 359.0L190.7 360.3L191.3 358.0L189.5 356.6L191.8 356.5Z"/>
<path d="M200.0 350.1L200.9 352.2L203.2 352.4L201.4 353.8L202.0 356.0L200.0 354.8L198.1 356.0L198.7 353.8L196.9 352.4L199.2 352.2Z"/>
<path d="M200.1 350.6L200.9 352.8L203.2 352.9L201.4 354.4L202.0 356.6L200.1 355.3L198.1 356.6L198.7 354.4L196.9 352.9L199.2 352.8Z"/>
<path d="M199.6 347.9L200.4 350.1L202.7 350.2L200.9 351.7L201.5 353.9L199.6 352.6L197.6 353.9L198.2 351.7L196.4 350.2L198.7 350.1Z"/>
<path d="M200.5 347.6L201.3 349.7L203.7 349.8L201.9 351.3L202.5 353.5L200.5 352.3L198.6 353.5L199.2 351.3L197.4 349.8L199.7 349.7Z"/>
<path d="M190.7 356.2L191.5 358.3L193.9 358.4L192.1 359.9L192.7 362.1L190.7 360.9L188.8 362.1L189.4 359.9L187.6 358.4L189.9 358.3Z"/>
<path d="M192.0 355.5L192.8 357.6L195.1 357.7L193.3 359.2L193.9 361.4L192.0 360.2L190.1 361.4L190.7 359.2L188.9 357.7L191.2 357.6Z"/>
<path d="M193.9 350.8L194.7 352.9L197.0 353.1L195.2 354.5L195.8 356.7L193.9 355.5L191.9 356.7L192.5 354.5L190.7 353.1L193.1 352.9Z"/>
<path d="M195.7 352.4L196.5 354.5L198.8 354.6L197.0 356.1L197.6 358.3L195.7 357.1L193.7 358.3L194.3 356.1L192.5 354.6L194.9 354.5Z"/>
<path d="M192.0 351.6L192.9 353.8L195.2 353.9L193.4 355.3L194.0 357.6L192.0 356.3L190.1 357.6L190.7 355.3L188.9 353.9L191.2 353.8Z"/>
<path d="M202.4 349.5L203.3 351.7L205.6 351.8L203.8 353.3L204.4 355.5L202.4 354.2L200.5 355.5L201.1 353.3L199.3 351.8L201.6 351.7Z"/>
<path d="M192.4 355.1L193.2 357.3L195.5 357.4L193.7 358.9L194.3 361.1L192.4 359.8L190.4 361.1L191.0 358.9L189.2 357.4L191.6 357.3Z"/>
<path d="M196.0 354.3L196.8 356.5L199.2 356.6L197.4 358.0L198.0 360.3L196.0 359.0L194.1 360.3L194.7 358.0L192.9 356.6L195.2 356.5Z"/>
<path d="M204.0 349.4L204.8 351.6L207.1 351.7L205.3 353.2L205.9 355.4L204.0 354.1L202.0 355.4L202.6 353.2L200.8 351.7L203.1 351.6Z"/>
<path d="M195.8 352.7L196.7 354.8L199.0 355.0L197.2 356.4L197.8 358.7L195.8 357.4L193.9 358.7L194.5 356.4L192.7 355.0L195.0 354.8Z"/>
<path d="M190.5 354.9L191.4 357.1L193.7 357.2L191.9 358.6L192.5 360.9L190.5 359.6L188.6 360.9L189.2 358.6L187.4 357.2L189.7 357.1Z"/>
<path d="M197.3 348.2L198.1 350.3L200.4 350.4L198.6 351.9L199.2 354.1L197.3 352.9L195.3 354.1L195.9 351.9L194.1 350.4L196.4 350.3Z"/>
<path d="M191.6 354.8L192.4 357.0L194.8 357.1L192.9 358.5L193.6 360.8L191.6 359.5L189.7 360.8L190.3 358.5L188.5 357.1L190.8 357.0Z"/>
<path d="M201.4 348.7L202.2 350.9L204.5 351.0L202.7 352.4L203.3 354.7L201.4 353.4L199.4 354.7L200.0 352.4L198.2 351.0L200.5 350.9Z"/>
<path d="M196.9 348.2L197.7 350.4L200.0 350.5L198.2 352.0L198.8 354.2L196.9 352.9L194.9 354.2L195.5 352.0L193.7 350.5L196.0 350.4Z"/>
<path d="M197.9 355.7L198.8 357.9L201.1 358.0L199.3 359.4L199.9 361.7L197.9 360.4L196.0 361.7L196.6 359.4L194.8 358.0L197.1 357.9Z"/>
<path d="M192.3 353.8L193.1 356.0L195.4 356.1L193.6 357.5L194.2 359.8L192.3 358.5L190.3 359.8L190.9 357.5L189.1 356.1L191.5 356.0Z"/>
<path d="M202.3 348.5L203.1 350.7L205.4 350.8L203.6 352.3L204.2 354.5L202.3 353.2L200.3 354.5L200.9 352.3L199.1 350.8L201.5 350.7Z"/>
<path d="M196.8 352.6L197.6 354.8L199.9 354.9L198.1 356.3L198.7 358.6L196.8 357.3L194.8 358.6L195.5 356.3L193.6 354.9L196.0 354.8Z"/>
<path d="M195.9 356.6L196.7 358.7L199.0 358.8L197.2 360.3L197.8 362.5L195.9 361.3L193.9 362.5L194.5 360.3L192.7 358.8L195.0 358.7Z"/>
<path d="M203.7 351.3L204.5 353.4L206.8 353.6L205.0 355.0L205.6 357.2L203.7 356.0L201.7 357.2L202.3 355.0L200.5 353.6L202.8 353.4Z"/>
<path d="M206.0 350.9L206.8 353.1L209.1 353.2L207.3 354.7L207.9 356.9L206.0 355.6L204.0 356.9L204.7 354.7L202.9 353.2L205.2 353.1Z"/>
<path d="M203.4 350.9L204.3 353.1L206.6 353.2L204.8 354.7L205.4 356.9L203.4 355.6L201.5 356.9L202.1 354.7L200.3 353.2L202.6 353.1Z"/>
<path d="M195.9 353.6L196.8 355.8L199.1 355.9L197.3 357.4L197.9 359.6L195.9 358.3L194.0 359.6L194.6 357.4L192.8 355.9L195.1 355.8Z"/>
<path d="M193.5 356.9L194.4 359.0L196.7 359.1L194.9 360.6L195.5 362.8L193.5 361.6L191.6 362.8L192.2 360.6L190.4 359.1L192.7 359.0Z"/>
<path d="M197.1 353.5L197.9 355.7L200.2 355.8L198.4 357.3L199.0 359.5L197.1 358.2L195.1 359.5L195.8 357.3L193.9 355.8L196.3 355.7Z"/>
<path d="M198.6 346.7L199.4 348.9L201.7 349.0L199.9 350.4L200.5 352.7L198.6 351.4L196.7 352.7L197.3 350.4L195.5 349.0L197.8 348.9Z"/>
<path d="M190.9 353.1L191.7 355.2L194.0 355.4L192.2 356.8L192.8 359.0L190.9 357.8L189.0 359.0L189.6 356.8L187.8 355.4L190.1 355.2Z"/>
<path d="M191.2 353.9L192.0 356.1L194.3 356.2L192.5 357.7L193.1 359.9L191.2 358.6L189.2 359.9L189.8 357.7L188.0 356.2L190.3 356.1Z"/>
<path d="M194.9 353.9L195.7 356.1L198.0 356.2L196.2 357.6L196.8 359.9L194.9 358.6L193.0 359.9L193.6 357.6L191.8 356.2L194.1 356.1Z"/>
<path d="M196.4 351.9L197.2 354.0L199.6 354.2L197.7 355.6L198.4 357.8L196.4 356.6L194.5 357.8L195.1 355.6L193.3 354.2L195.6 354.0Z"/>
<path d="M197.8 349.5L198.6 351.6L200.9 351.7L199.1 353.2L199.7 355.4L197.8 354.2L195.9 355.4L196.5 353.2L194.7 351.7L197.0 351.6Z"/>
<path d="M199.6 349.3L200.4 351.5L202.7 351.6L200.9 353.1L201.5 355.3L199.6 354.0L197.6 355.3L198.2 353.1L196.4 351.6L198.7 351.5Z"/>
<path d="M202.6 350.7L203.4 352.9L205.7 353.0L203.9 354.5L204.5 356.7L202.6 355.4L200.6 356.7L201.2 354.5L199.4 353.0L201.7 352.9Z"/>
<path d="M196.1 354.7L196.9 356.8L199.2 357.0L197.4 358.4L198.0 360.6L196.1 359.4L194.2 360.6L194.8 358.4L193.0 357.0L195.3 356.8Z"/>
<path d="M191.2 356.9L192.0 359.1L194.3 359.2L192.5 360.6L193.1 362.9L191.2 361.6L189.2 362.9L189.9 360.6L188.0 359.2L190.4 359.1Z"/>
<path d="M205.2 349.3L206.0 351.4L208.3 351.5L206.5 353.0L207.1 355.2L205.2 354.0L203.2 355.2L203.8 353.0L202.0 351.5L204.3 351.4Z"/>
<path d="M191.6 355.6L192.4 357.7L194.7 357.8L192.9 359.3L193.6 361.5L191.6 360.3L189.7 361.5L190.3 359.3L188.5 357.8L190.8 357.7Z"/>
<path d="M200.3 351.6L201.1 353.8L203.4 353.9L201.6 355.4L202.2 357.6L200.3 356.3L198.3 357.6L198.9 355.4L197.1 353.9L199.4 353.8Z"/>
<path d="M197.8 352.6L198.6 354.8L200.9 354.9L199.1 356.4L199.7 358.6L197.8 357.3L195.9 358.6L196.5 356.4L194.7 354.9L197.0 354.8Z"/>
<path d="M189.8 355.3L190.6 357.5L192.9 357.6L191.1 359.0L191.7 361.3L189.8 360.0L187.8 361.3L188.5 359.0L186.6 357.6L189.0 357.5Z"/>
<path d="M191.1 356.5L192.0 358.6L194.3 358.8L192.5 360.2L193.1 362.4L191.1 361.2L189.2 362.4L189.8 360.2L188.0 358.8L190.3 358.6Z"/>
<path d="M203.3 348.9L204.1 351.1L206.4 351.2L204.6 352.6L205.2 354.9L203.3 353.6L201.4 354.9L202.0 352.6L200.2 351.2L202.5 351.1Z"/>
<path d="M203.9 350.0L204.8 352.2L207.1 352.3L205.3 353.8L205.9 356.0L203.9 354.7L202.0 356.0L202.6 353.8L200.8 352.3L203.1 352.2Z"/>
<path d="M193.7 352.4L194.5 354.5L196.8 354.6L195.0 356.1L195.6 358.3L193.7 357.1L191.8 358.3L192.4 356.1L190.6 354.6L192.9 354.5Z"/>
<path d="M199.5 349.5L200.3 351.7L202.6 351.8L200.8 353.3L201.4 355.5L199.5 354.2L197.5 355.5L198.1 353.3L196.3 351.8L198.7 351.7Z"/>
<path d="M204.2 351.5L205.1 353.6L207.4 353.7L205.6 355.2L206.2 357.4L204.2 356.2L202.3 357.4L202.9 355.2L201.1 353.7L203.4 353.6Z"/>
<path d="M193.7 350.2L194.5 352.3L196.8 352.4L195.0 353.9L195.6 356.1L193.7 354.9L191.7 356.1L192.3 353.9L190.5 352.4L192.9 352.3Z"/>
<path d="M194.8 355.9L195.7 358.1L198.0 358.2L196.2 359.6L196.8 361.9L194.8 360.6L192.9 361.9L193.5 359.6L191.7 358.2L194.0 358.1Z"/>
<path d="M196.9 355.7L197.7 357.9L200.0 358.0L198.2 359.5L198.8 361.7L196.9 360.4L195.0 361.7L195.6 359.5L193.8 358.0L196.1 357.9Z"/>
<path d="M195.8 352.5L196.6 354.6L198.9 354.8L197.1 356.2L197.7 358.4L195.8 357.2L193.8 358.4L194.4 356.2L192.6 354.8L194.9 354.6Z"/>
<path d="M201.8 353.0L202.6 355.2L204.9 355.3L203.1 356.8L203.7 359.0L201.8 357.7L199.9 359.0L200.5 356.8L198.7 355.3L201.0 355.2Z"/>
<path d="M204.0 350.0L204.8 352.1L207.2 352.3L205.3 353.7L206.0 355.9L204.0 354.7L202.1 355.9L202.7 353.7L200.9 352.3L203.2 352.1Z"/>
<path d="M197.2 351.9L198.0 354.0L200.4 354.1L198.6 355.6L199.2 357.8L197.2 356.6L195.3 357.8L195.9 355.6L194.1 354.1L196.4 354.0Z"/>
<path d="M204.6 350.0L205.4 352.1L207.7 352.3L205.9 353.7L206.5 355.9L204.6 354.7L202.6 355.9L203.2 353.7L201.4 352.3L203.7 352.1Z"/>
<path d="M200.1 349.7L200.9 351.9L203.3 352.0L201.4 353.4L202.1 355.7L200.1 354.4L198.2 355.7L198.8 353.4L197.0 352.0L199.3 351.9Z"/>
<path d="M200.2 353.5L201.0 355.7L203.4 355.8L201.6 357.3L202.2 359.5L200.2 358.2L198.3 359.5L198.9 357.3L197.1 355.8L199.4 355.7Z"/>
<path d="M203.9 352.0L204.7 354.1L207.0 354.3L205.2 355.7L205.8 357.9L203.9 356.7L202.0 357.9L202.6 355.7L200.8 354.3L203.1 354.1Z"/>
<path d="M194.7 354.1L195.5 356.3L197.8 356.4L196.0 357.8L196.6 360.1L194.7 358.8L192.8 360.1L193.4 357.8L191.6 356.4L193.9 356.3Z"/>
<path d="M198.0 347.1L198.8 349.3L201.1 349.4L199.3 350.8L199.9 353.1L198.0 351.8L196.0 353.1L196.6 350.8L194.8 349.4L197.2 349.3Z"/>
<path d="M192.4 351.0L193.2 353.2L195.5 353.3L193.7 354.8L194.3 357.0L192.4 355.7L190.4 357.0L191.0 354.8L189.2 353.3L191.6 353.2Z"/>
<path d="M200.6 350.8L201.5 353.0L203.8 353.1L202.0 354.6L202.6 356.8L200.6 355.5L198.7 356.8L199.3 354.6L197.5 353.1L199.8 353.0Z"/>
<path d="M199.8 354.2L200.6 356.4L202.9 356.5L201.1 358.0L201.7 360.2L199.8 358.9L197.9 360.2L198.5 358.0L196.7 356.5L199.0 356.4Z"/>
<path d="M195.1 352.8L195.9 355.0L198.2 355.1L196.4 356.5L197.0 358.8L195.1 357.5L193.2 358.8L193.8 356.5L192.0 355.1L194.3 355.0Z"/>
<path d="M194.9 349.5L195.7 351.6L198.0 351.7L196.2 353.2L196.8 355.4L194.9 354.2L192.9 355.4L193.6 353.2L191.7 351.7L194.1 351.6Z"/>
<path d="M202.7 348.4L203.5 350.6L205.8 350.7L204.0 352.2L204.6 354.4L202.7 353.1L200.8 354.4L201.4 352.2L199.6 350.7L201.9 350.6Z"/>
<path d="M202.2 352.2L203.0 354.4L205.3 354.5L203.5 356.0L204.2 358.2L202.2 356.9L200.3 358.2L200.9 356.0L199.1 354.5L201.4 354.4Z"/>
<path d="M200.6 348.0L201.4 350.1L203.8 350.3L201.9 351.7L202.6 353.9L200.6 352.7L198.7 353.9L199.3 351.7L197.5 350.3L199.8 350.1Z"/>
<path d="M192.8 350.6L193.6 352.7L195.9 352.8L194.1 354.3L194.7 356.5L192.8 355.3L190.9 356.5L191.5 354.3L189.7 352.8L192.0 352.7Z"/>
<path d="M197.3 350.0L198.2 352.2L200.5 352.3L198.7 353.8L199.3 356.0L197.3 354.7L195.4 356.0L196.0 353.8L194.2 352.3L196.5 352.2Z"/>
<path d="M201.4 350.6L202.2 352.7L204.5 352.9L202.7 354.3L203.3 356.6L201.4 355.3L199.5 356.6L200.1 354.3L198.3 352.9L200.6 352.7Z"/>
<path d="M193.0 356.2L193.8 358.4L196.2 358.5L194.4 359.9L195.0 362.2L193.0 360.9L191.1 362.2L191.7 359.9L189.9 358.5L192.2 358.4Z"/>
<path d="M190.1 355.6L190.9 357.7L193.2 357.9L191.4 359.3L192.0 361.5L190.1 360.3L188.1 361.5L188.7 359.3L186.9 357.9L189.2 357.7Z"/>
</g>
<g fill="#fff" stroke="#000" stroke-width="1.7">
<circle cx="471.9" cy="302.8" r="1.75"/>
<circle cx="439.6" cy="299.5" r="1.75"/>
<circle cx="433.2" cy="298.2" r="1.75"/>
<circle cx="467.0" cy="302.7" r="1.75"/>
<circle cx="492.3" cy="303.4" r="1.75"/>
<circle cx="455.7" cy="301.4" r="1.75"/>
<circle cx="504.0" cy="306.2" r="1.75"/>
<circle cx="482.7" cy="303.6" r="1.75"/>
<circle cx="467.8" cy="300.8" r="1.75"/>
<circle cx="472.8" cy="301.7" r="1.75"/>
<circle cx="480.3" cy="302.7" r="1.75"/>
<circle cx="460.1" cy="299.4" r="1.75"/>
<circle cx="463.8" cy="301.0" r="1.75"/>
<circle cx="475.4" cy="301.9" r="1.75"/>
<circle cx="448.4" cy="301.7" r="1.75"/>
<circle cx="479.1" cy="303.4" r="1.75"/>
<circle cx="511.6" cy="307.2" r="1.75"/>
<circle cx="494.9" cy="302.9" r="1.75"/>
<circle cx="489.9" cy="303.5" r="1.75"/>
<circle cx="453.4" cy="300.6" r="1.75"/>
<circle cx="469.1" cy="302.3" r="1.75"/>
<circle cx="443.4" cy="299.2" r="1.75"/>
<circle cx="463.0" cy="301.4" r="1.75"/>
<circle cx="458.8" cy="299.2" r="1.75"/>
<circle cx="478.1" cy="303.5" r="1.75"/>
<circle cx="464.6" cy="300.8" r="1.75"/>
<circle cx="452.5" cy="299.8" r="1.75"/>
<circle cx="446.2" cy="299.5" r="1.75"/>
<circle cx="457.2" cy="299.9" r="1.75"/>
<circle cx="487.5" cy="303.9" r="1.75"/>
<circle cx="454.5" cy="297.8" r="1.75"/>
<circle cx="451.2" cy="299.3" r="1.75"/>
<circle cx="476.8" cy="302.8" r="1.75"/>
<circle cx="429.5" cy="296.7" r="1.75"/>
<circle cx="491.0" cy="304.2" r="1.75"/>
<circle cx="493.4" cy="304.7" r="1.75"/>
<circle cx="489.2" cy="303.9" r="1.75"/>
<circle cx="484.0" cy="304.3" r="1.75"/>
<circle cx="470.3" cy="301.5" r="1.75"/>
<circle cx="450.9" cy="297.6" r="1.75"/>
<circle cx="474.3" cy="302.3" r="1.75"/>
<circle cx="456.4" cy="301.9" r="1.75"/>
<circle cx="488.5" cy="304.5" r="1.75"/>
<circle cx="481.8" cy="303.9" r="1.75"/>
<circle cx="517.3" cy="306.9" r="1.75"/>
<circle cx="486.5" cy="304.5" r="1.75"/>
<circle cx="497.0" cy="305.5" r="1.75"/>
<circle cx="462.2" cy="300.6" r="1.75"/>
<circle cx="485.6" cy="303.7" r="1.75"/>
<circle cx="461.4" cy="300.7" r="1.75"/>
<circle cx="465.3" cy="301.5" r="1.75"/>
<circle cx="500.3" cy="306.0" r="1.75"/>
</g>
<g stroke="#000" stroke-width="1.8" fill="none" stroke-linecap="butt">
<rect x="75.8" y="8.16" width="463.30" height="377.10"/>
<path d="M75.8 385.26v5M75.8 8.16v5"/>
<path d="M143.9 385.26v10M143.9 8.16v10"/>
<path d="M212.1 385.26v5M212.1 8.16v5"/>
<path d="M280.2 385.26v10M280.2 8.16v10"/>
<path d="M348.4 385.26v5M348.4 8.16v5"/>
<path d="M416.6 385.26v10M416.6 8.16v10"/>
<path d="M484.7 385.26v5M484.7 8.16v5"/>
<path d="M75.8 385.3h-5M539.1 385.3h-5"/>
<path d="M75.8 347.6h-10M539.1 347.6h-10"/>
<path d="M75.8 309.8h-5M539.1 309.8h-5"/>
<path d="M75.8 272.1h-10M539.1 272.1h-10"/>
<path d="M75.8 234.4h-5M539.1 234.4h-5"/>
<path d="M75.8 196.7h-10M539.1 196.7h-10"/>
<path d="M75.8 159.0h-5M539.1 159.0h-5"/>
<path d="M75.8 121.3h-10M539.1 121.3h-10"/>
<path d="M75.8 83.6h-5M539.1 83.6h-5"/>
<path d="M75.8 45.9h-10M539.1 45.9h-10"/>
<path d="M75.8 8.2h-5M539.1 8.2h-5"/>
</g>
<g class="ser" font-size="21" text-anchor="middle">
<text x="143.9" y="414.1">1</text>
<text x="280.2" y="414.1">2</text>
<text x="416.6" y="414.1">3</text>
</g>
<g class="ser" font-size="21" text-anchor="end">
<text x="64" y="354.2">50</text>
<text x="64" y="278.7">100</text>
<text x="64" y="203.3">150</text>
<text x="64" y="127.9">200</text>
<text x="64" y="52.5">250</text>
</g>
<text class="ser" font-size="24.6" x="262" y="438.0">v<tspan font-size="16" dy="6.6">3</tspan><tspan dy="-6.6"> (cm/ns)</tspan></text>
<text class="ser" font-size="24.6" text-anchor="middle" transform="translate(24.6 197.9) rotate(-90)">ΔE (MeV)</text>
<rect x="382.4" y="18.7" width="148.5" height="128.7" fill="#fff" stroke="#808080" stroke-width="1.2"/>
<text class="san" font-size="18.7" fill="#000000" transform="translate(402.7 40.10) scale(1 1.04)"><tspan font-size="12" dy="-7.2">48</tspan><tspan dy="7.2" dx="0.4">Ca - DTF</tspan></text>
<text class="san" font-size="18.7" fill="#ff0086" transform="translate(402.7 66.00) scale(1 1.04)"><tspan font-size="12" dy="-7.2">48</tspan><tspan dy="7.2" dx="0.4">Ca - STF</tspan></text>
<text class="san" font-size="18.7" fill="#0000ff" transform="translate(402.7 91.70) scale(1 1.04)"><tspan font-size="12" dy="-7.2">124</tspan><tspan dy="7.2" dx="0.4" letter-spacing="0.07">Sn - SymBF</tspan></text>
<text class="san" font-size="18.7" fill="#ff8000" transform="translate(402.7 117.50) scale(1 1.04)"><tspan font-size="12" dy="-7.2">170</tspan><tspan dy="7.2" dx="0.4" letter-spacing="0.11">Hf - AsymBF</tspan></text>
<text class="san" font-size="18.7" fill="#00ff00" transform="translate(402.7 142.70) scale(1 1.04)"><tspan font-size="12" dy="-7.2">78</tspan><tspan dy="7.2" dx="0.4">Ni -AsymBF</tspan></text>
<circle cx="390.6" cy="33.4" r="4.3" fill="none" stroke="#000" stroke-width="2.8"/>
<path d="M390.70 54.40L392.29 57.22L395.46 57.85L393.27 60.23L393.64 63.45L390.70 62.10L387.76 63.45L388.13 60.23L385.94 57.85L389.11 57.22Z" fill="#ff0086" stroke="#ff0086" stroke-width="2.6" stroke-linejoin="round"/>
<circle cx="390.5" cy="84.6" r="5.6" fill="#0000ff"/>
<path d="M385.5 110.4L390.7 105.2L395.9 110.4L390.7 115.60000000000001Z" fill="none" stroke="#ff8000" stroke-width="2.9" stroke-linejoin="round"/><circle cx="390.7" cy="110.4" r="1.4" fill="#ff8000"/>
<path d="M385.2 139.1L390.8 129.4L396.4 139.1Z" fill="none" stroke="#00ff00" stroke-width="1.5" stroke-linejoin="miter"/>
<path d="M390.8 129.4L394.9 136.5L386.7 136.5Z" fill="#00ff00"/>
</svg></body></html>
